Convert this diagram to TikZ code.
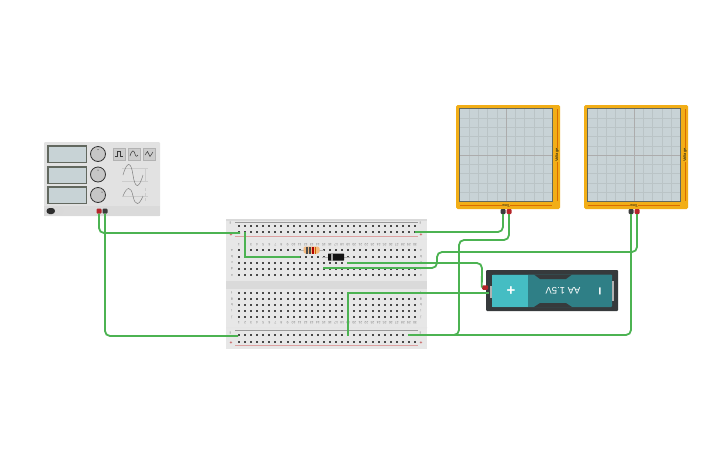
\documentclass[tikz,border=0pt]{standalone}
\usepackage{fontspec}
\setmainfont{Liberation Sans}
\usetikzlibrary{calc}
\definecolor{wiregreen}{HTML}{4CB352}
\definecolor{boardbg}{HTML}{E7E7E7}
\definecolor{boardgroove}{HTML}{DADADA}
\definecolor{holec}{HTML}{484848}
\definecolor{railred}{HTML}{DCA0A0}
\definecolor{railgray}{HTML}{9A9A9A}
\definecolor{psbody}{HTML}{E2E2E2}
\definecolor{psstrip}{HTML}{DADADA}
\definecolor{lcd}{HTML}{C8D3D6}
\definecolor{lcdedge}{HTML}{62685F}
\definecolor{scopeamber}{HTML}{F2AE17}
\definecolor{gridc}{HTML}{BAC4C6}
\definecolor{termred}{HTML}{B5252A}
\definecolor{termblack}{HTML}{3C3C3C}
\definecolor{battdark}{HTML}{363A3C}
\definecolor{battteal}{HTML}{2F7F86}
\definecolor{battlight}{HTML}{45BDC3}
\tikzset{
  wire/.style={draw=wiregreen,line width=1.8pt,rounded corners=5pt},
  straightwire/.style={draw=wiregreen,line width=1.8pt},
  tinylabel/.style={text=gray,font=\fontsize{3.4}{3.4}\selectfont,inner sep=0pt,rotate=180},
  lcdbox/.style={fill=lcd,draw=lcdedge,line width=1.5pt},
  knob/.style={circle,fill=gray!45,draw=gray!40!black,line width=.8pt,minimum size=15pt,inner sep=0pt},
  wavebtn/.style={fill=gray!40,draw=gray!60,line width=.5pt,minimum size=12pt,inner sep=0pt},
  termr/.style={fill=termred,draw=none,minimum size=5pt,inner sep=0pt,rounded corners=1pt},
  termb/.style={fill=termblack,draw=none,minimum size=5pt,inner sep=0pt,rounded corners=1pt},
  gridline/.style={draw=gridc,line width=.4pt},
  gridaxis/.style={draw=gray!65,line width=.6pt},
}
\begin{document}
\begin{tikzpicture}[x=1pt,y=-1pt]
\useasboundingbox (0,0) rectangle (725,453);
\fill[white] (0,0) rectangle (725,453);

%% power supply
\fill[psbody,rounded corners=1pt] (44,142) rectangle (160,216);
\fill[psstrip] (44,206) rectangle (160,216);
\node[lcdbox,minimum width=38.5pt,minimum height=16.5pt,inner sep=0pt] (disp1) at (67,154) {};
\node[lcdbox,minimum width=38.5pt,minimum height=16.5pt,inner sep=0pt] (disp2) at (67,175) {};
\node[lcdbox,minimum width=38.5pt,minimum height=16.5pt,inner sep=0pt] (disp3) at (67,195) {};
\node[knob] (knob1) at (98,154) {};
\node[knob] (knob2) at (98,174.5) {};
\node[knob] (knob3) at (98,195) {};
\fill[gray!20!black] (98,149.5) circle (.5pt) (98,170) circle (.5pt) (102,192) circle (.5pt);
\node[wavebtn] (btn1) at (119,154) {};
\node[wavebtn] (btn2) at (134,154) {};
\node[wavebtn] (btn3) at (149,154) {};
\draw[gray!45!black,line width=.5pt] (115,156)--(117.5,156)--(117.5,151.5)--(120.5,151.5)--(120.5,156.5)--(123,156.5);
\draw[gray!45!black,line width=.5pt] (130,156) .. controls (132,149) and (134,150) .. (135,154) .. controls (136,157) and (137,157) .. (138,155);
\draw[gray!45!black,line width=.5pt] (145,155) -- (147.5,151.5) -- (150,156.5) -- (153,152);
\draw[gray!40,line width=.5pt] (122,168) -- (148,168) (122,181) -- (148,181) (145.5,168) -- (145.5,181);
\draw[gray,line width=.5pt] (123,175) .. controls (127,161) and (131,161) .. (133,175) .. controls (135,189) and (139,189) .. (143,175);
\draw[gray!40,line width=.5pt,densely dashed] (145.5,188) -- (145.5,202);
\draw[gray!40,line width=.5pt] (122,196) -- (148,196);
\draw[gray,line width=.5pt] (123,196) .. controls (127,186) and (131,186) .. (133,196) .. controls (135,206) and (139,206) .. (143,196);
\fill[gray!30,rounded corners=3pt] (46,207.5) rectangle (63,214.5);
\fill[gray!35!black,rounded corners=3pt] (46.5,208) rectangle (55,214);
\node[termr] (psred) at (99,211) {};
\node[termb] (psblack) at (105,211) {};

%% breadboard
\fill[boardbg] (226,219) rectangle (427,349);
\fill[gray!30] (226,219) rectangle (427,220.5);
\fill[boardgroove] (226,281) rectangle (427,289);
\fill[gray!20] (226,238.5) rectangle (427,239.5) (226,327) rectangle (427,328);
\foreach \i in {0,...,29}{
  \foreach \r in {226,232,250,256.5,262.5,268.5,275,292.5,299,305,311,317,335,341.5}{
    \fill[holec] ({239+6.07*\i-1},\r-1) rectangle ++(2,2);
  }
  \pgfmathtruncatemacro{\num}{\i+1}
  \node[tinylabel] (topnum\num) at ({239+6.07*\i},245) {\num};
  \node[tinylabel] (botnum\num) at ({239+6.07*\i},323) {\num};
}
\foreach \r/\a in {250/a,256.5/b,262.5/c,268.5/d,275/e,292.5/f,299/g,305/h,311/i,317/j}{
  \node[tinylabel] (lleft\a) at (232,\r) {\a};
  \node[tinylabel] (lright\a) at (421,\r) {\a};
}
\draw[railgray,line width=1pt] (235,222) -- (418,222) (235,330.7) -- (418,330.7);
\draw[railred,line width=1pt] (235,236) -- (418,236) (235,345.7) -- (418,345.7);
\foreach \x/\n in {231/a,421/b}{
  \node[text=gray!60!black,font=\fontsize{5}{5}\selectfont,inner sep=0pt,rotate=90] (mt\n) at (\x,223) {−};
  \node[text=red!70!black,font=\fontsize{5}{5}\selectfont,inner sep=0pt] (pt\n) at (\x,235) {+};
  \node[text=gray!60!black,font=\fontsize{5}{5}\selectfont,inner sep=0pt,rotate=90] (mb\n) at (\x,333) {−};
  \node[text=red!70!black,font=\fontsize{5}{5}\selectfont,inner sep=0pt] (pb\n) at (\x,343) {+};
}

%% resistor
\draw[gray!60,line width=.8pt] (299,250) -- (324,250);
\fill[brown!30!orange!55!white,rounded corners=2pt] (303.5,246.5) rectangle (319.5,253.5);
\fill[black!70] (306,246.5) rectangle (307.5,253.5);
\fill[black!70] (309,246.5) rectangle (310.5,253.5);
\fill[red!70!black] (312,246.5) rectangle (313.5,253.5);
\fill[orange!80!black] (315,246.5) rectangle (316,253.5);
%% diode
\draw[gray!60,line width=.8pt] (322,257) -- (350,257);
\fill[gray!15!black,rounded corners=.5pt] (328,253.5) rectangle (344,260.5);
\fill[gray!70] (331,253.5) rectangle (332.5,260.5);

%% scopes
\foreach \dx/\s in {0/a,128/b}{
  \begin{scope}[xshift=\dx pt]
  \fill[scopeamber,rounded corners=1.5pt] (456,105) rectangle (560,209);
  \node[fill=lcd,draw=none,minimum size=93pt,inner sep=0pt] (scr\s) at (506,155) {};
  \foreach \k in {1,2,3,4,6,7,8,9}{
    \draw[gridline] ({459.5+9.3*\k},109) -- ({459.5+9.3*\k},201);
    \draw[gridline] (460,{108.5+9.3*\k}) -- (552,{108.5+9.3*\k});
  }
  \draw[gridaxis] (506,109) -- (506,201) (460,155) -- (552,155);
  \draw[lcdedge,line width=1.5pt] (459.5,108.5) rectangle (552.5,201.5);
  \draw[orange!85!black,line width=.3pt] (557,109) -- (557,201) (460,205.5) -- (552,205.5);
  \node[text=gray!10!black,font=\fontsize{4}{4}\selectfont,inner sep=0pt,rotate=90,fill=scopeamber] (vlab\s) at (557,155) {Voltage};
  \node[text=gray!10!black,font=\fontsize{3.5}{3.5}\selectfont,inner sep=.4pt,rotate=180,fill=scopeamber] (tlab\s) at (506,205.5) {Time};
  \end{scope}
}
\node[termb] (s1black) at (503,211.5) {};
\node[termr] (s1red) at (509,211.5) {};
\node[termb] (s2black) at (631,211.5) {};
\node[termr] (s2red) at (637,211.5) {};

%% battery
\fill[battdark,rounded corners=1pt] (486,270) rectangle (618,311);
\fill[battteal,rounded corners=1pt] (492,274.5) rectangle (612,307);
\fill[battlight] (492,274.5) rectangle (528,307);
\fill[battdark] (534,274.5) -- (540,279) -- (566,279) -- (572,274.5) -- cycle;
\fill[battdark] (534,307) -- (540,303) -- (566,303) -- (572,307) -- cycle;
\fill[gray!60] (489.5,286) rectangle (492,298);
\fill[gray!60] (612,281) rectangle (614,301);
\node[text=white,font=\bfseries\fontsize{15}{15}\selectfont,inner sep=0pt] (bplus) at (511,291) {+};
\node[text=white,font=\fontsize{9.5}{9.5}\selectfont,inner sep=0pt,rotate=180] (blabel) at (563,291) {AA 1.5V};
\node[text=white,font=\bfseries\fontsize{14}{14}\selectfont,inner sep=0pt,rotate=90] (bminus) at (602,291) {−};
\node[termr,minimum width=6pt,minimum height=4.5pt] (batred) at (485,287.5) {};
\coordinate (batblack) at (489,293);

%% wire free ends on the breadboard
\coordinate (hA) at (240,233);
\coordinate (hB) at (245,232);
\coordinate (hC) at (245,257);
\coordinate (hD) at (300,257);
\coordinate (hE) at (415,232);
\coordinate (hF) at (238,336);
\coordinate (hG) at (408,335);
\coordinate (hH) at (323,268);
\coordinate (hI) at (347,263);
\coordinate (hJ) at (347,293);
\coordinate (hK) at (348,293);
\coordinate (hL) at (348,336);

%% wires
\draw[wire] (psred.south) |- (hA);
\draw[wire] (psblack.south) |- (hF);
\draw[straightwire] (hB) -- (hC) -- (hD);
\draw[wire] (s1black.south) |- (hE);
\draw[wire] (s1red.south) -- (509,240) -- (459,240) -- (459,335) -- (hG);
\draw[wire] (s2black.south) |- (hG);
\draw[wire] (s2red.south) -- (637,252) -- (437,252) -- (437,268) -- (hH);
\draw[wire] (batred.west) -- (482,263) -- (hI);
\draw[wire] (batblack) -- (420,293) -- (hJ);
\draw[straightwire] (hK) -- (hL);
\end{tikzpicture}
\end{document}
